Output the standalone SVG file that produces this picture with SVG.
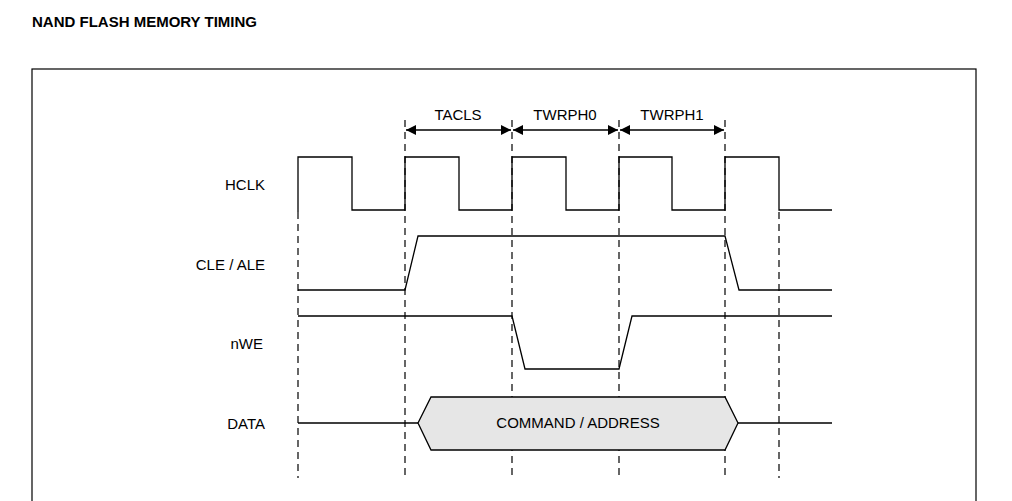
<svg xmlns="http://www.w3.org/2000/svg" width="1012" height="501" viewBox="0 0 1012 501">
<style>
text{font-family:"Liberation Sans",Arial,sans-serif;font-size:15px;fill:#000}
.s{fill:none;stroke:#000;stroke-width:1.3}
.d{fill:none;stroke:#000;stroke-width:1.2;stroke-dasharray:7,5}
</style>
<defs>
<marker id="a" viewBox="0 0 10 10" refX="10" refY="5" markerWidth="10" markerHeight="10" markerUnits="userSpaceOnUse" orient="auto-start-reverse"><path d="M0,0L10,5L0,10z"/></marker>
</defs>
<rect width="1012" height="501" fill="#fff"/>
<text x="32" y="27" style="font-weight:bold;font-size:15px">NAND FLASH MEMORY TIMING</text>
<rect x="32" y="69" width="944" height="450" fill="none" stroke="#000" stroke-width="1.2"/>
<g id="labels">
<text x="265" y="190" text-anchor="end">HCLK</text>
<text x="265" y="270" text-anchor="end">CLE / ALE</text>
<text x="263" y="349" text-anchor="end">nWE</text>
<text x="265" y="429" text-anchor="end">DATA</text>
<text x="458" y="120" text-anchor="middle">TACLS</text>
<text x="565" y="120" text-anchor="middle">TWRPH0</text>
<text x="672" y="120" text-anchor="middle">TWRPH1</text>
</g>
<g id="guides">
<path class="d" d="M298,212V478M779,212V478M405,120V478M512,120V478M619,120V478M725,120V478"/>
</g>
<g id="connectors">
<path class="s" marker-start="url(#a)" marker-end="url(#a)" d="M406,130H511"/>
<path class="s" marker-start="url(#a)" marker-end="url(#a)" d="M513,130H618"/>
<path class="s" marker-start="url(#a)" marker-end="url(#a)" d="M620,130H724"/>
</g>
<g id="HCLK"><path class="s" d="M298,212V157H352V210H405V157H459V210H512V157H566V210H619V157H672V210H725V157H779V210H832"/></g>
<g id="CLE"><path class="s" d="M298,290H405L418,236H725L739,290H832"/></g>
<g id="nWE"><path class="s" d="M298,316H512L525,369H619L632,316H832"/></g>
<g id="DATA">
<path class="s" d="M298,423H418M738,423H832"/>
<path d="M418,423L431,397H725L738,423L725,450H431Z" fill="#e6e6e6" stroke="#000" stroke-width="1.3"/>
<text x="578" y="428" text-anchor="middle">COMMAND / ADDRESS</text>
</g>
</svg>
